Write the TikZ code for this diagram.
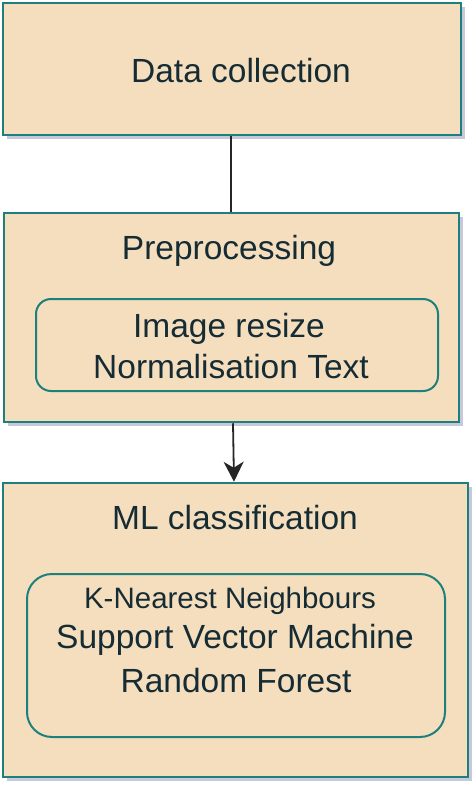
\documentclass[tikz,border=0pt]{standalone}
\usepackage{fontspec}
\setmainfont{Liberation Sans}
\usetikzlibrary{shadows,arrows.meta}
\definecolor{boxfill}{RGB}{245,222,190}
\definecolor{boxline}{RGB}{30,128,124}
\definecolor{txt}{RGB}{22,44,52}
\definecolor{shad}{RGB}{110,120,160}
\tikzset{
  outerbox/.style={draw=boxline, line width=2.5pt, fill=boxfill, inner sep=0pt,
    drop shadow={shadow xshift=4pt, shadow yshift=-4pt, fill=shad, opacity=0.4}},
  innerbox/.style={draw=boxline, line width=2pt, inner sep=0pt},
  lbl/.style={text=txt, inner sep=0pt, anchor=base, font=\fontsize{33.5}{40}\selectfont},
  small/.style={text=txt, inner sep=0pt, anchor=base, font=\fontsize{29.5}{40}\selectfont},
  conn/.style={draw=black!85, line width=1.8pt},
  tip/.style={-{Stealth[length=20pt,width=20pt,inset=6pt]}}
}
\begin{document}
\begin{tikzpicture}[x=1pt,y=-1pt]
\useasboundingbox (0,0) rectangle (472,785);
\node[outerbox, minimum width=458pt, minimum height=132pt] (b1) at (232,69) {};
\node[outerbox, minimum width=455pt, minimum height=209pt] (b2) at (231.5,317.5) {};
\node[outerbox, minimum width=465pt, minimum height=294pt] (b3) at (235.5,630) {};
\node[innerbox, rounded corners=15pt, minimum width=402pt, minimum height=92pt] (i2) at (237,345) {};
\node[innerbox, rounded corners=25pt, minimum width=418pt, minimum height=163pt] (i3) at (236,655.5) {};
\node[lbl] (t1) at (241,82) {Data collection};
\node[lbl] (t2) at (229,259) {Preprocessing};
\node[lbl] (t3) at (229,337) {Image resize};
\node[lbl] (t4) at (231,378) {Normalisation Text};
\node[lbl] (t5) at (235,529) {ML classification};
\node[small] (t6) at (230,608) {K-Nearest Neighbours};
\node[lbl] (t7) at (235,648) {Support Vector Machine};
\node[lbl] (t8) at (236,692) {Random Forest};
\draw[conn] ([xshift=-1pt]b1.south) -- ([xshift=-0.5pt]b2.north);
\draw[conn, tip] ([xshift=1.5pt]b2.south) -- ([xshift=-1.5pt]b3.north);
\end{tikzpicture}
\end{document}
